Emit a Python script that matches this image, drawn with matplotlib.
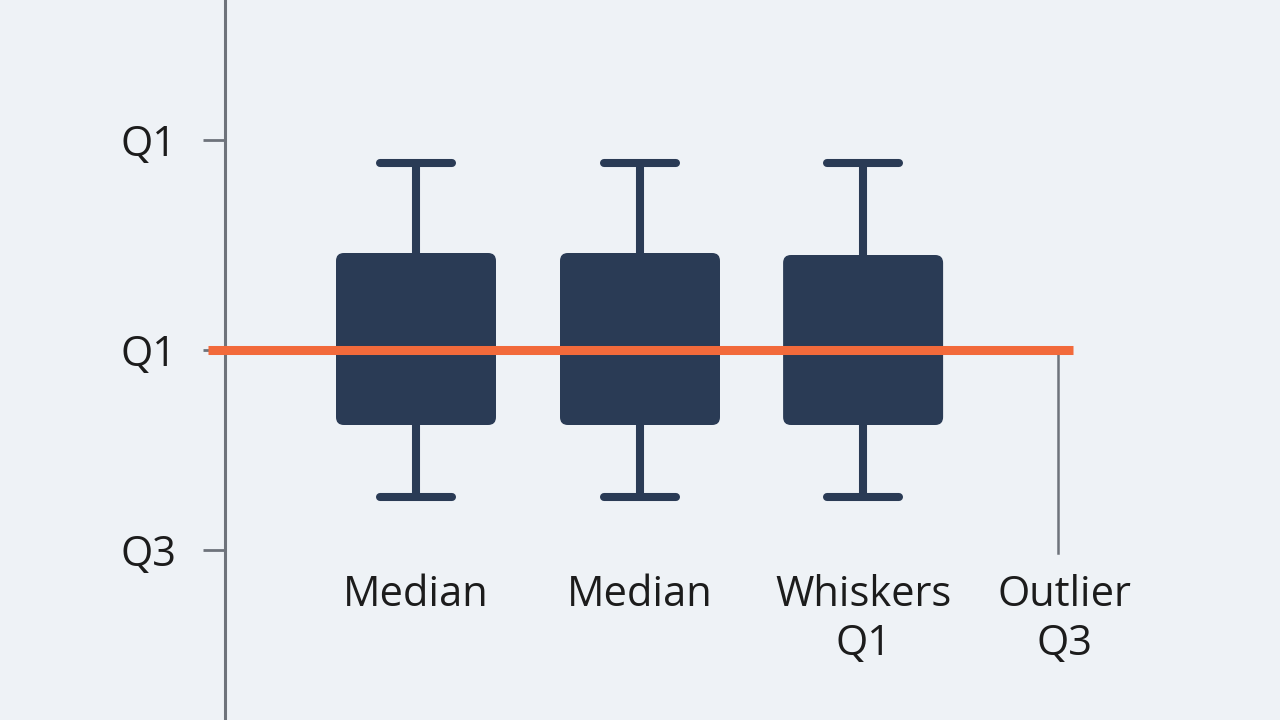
import matplotlib.pyplot as plt
from matplotlib.patches import FancyBboxPatch

# box statistics (arbitrary units)
positions = [1.0, 2.0, 2.996]
whisker_low = [22.3, 22.3, 22.3]
box_low = [29.5, 29.5, 29.5]
box_high = [46.7, 46.7, 46.5]
whisker_high = [55.7, 55.7, 55.7]

ref_level = 37.0
ref_x = [0.071, 3.933]
outlier_x = 3.866
outlier_span = [16.7, 36.5]

tick_vals = [58, 37, 17]
tick_labels = ['Q1', 'Q1', 'Q3']

label_x = [1.0, 2.0, 2.996, 3.897]
label_top = ['Median', 'Median', 'Whiskers', 'Outlier']
label_bottom = ['', '', 'Q1', 'Q3']

BG = '#eef2f6'
NAVY = '#2a3b55'
ORANGE = '#f26a3b'
GREY = '#6e737b'

plt.rcParams['font.family'] = ['Open Sans', 'DejaVu Sans']

fig = plt.figure(figsize=(12.8, 7.2), dpi=100, facecolor=BG)
ax = fig.add_axes([225 / 1280, 0, 1 - 225 / 1280, 1])
ax.set_facecolor(BG)
ax.set_xlim(1 - 191 / 224, 1 + 864 / 224)
ax.set_ylim(0, 72)

box_w = 160 / 224
cap_w = 72 / 224
for x, wl, bl, bh, wh in zip(positions, whisker_low, box_low, box_high, whisker_high):
    ax.plot([x, x], [wh, bh], color=NAVY, lw=5.8, solid_capstyle='butt', zorder=2)
    ax.plot([x, x], [bl, wl], color=NAVY, lw=5.8, solid_capstyle='butt', zorder=2)
    ax.plot([x - cap_w / 2, x + cap_w / 2], [wh, wh], color=NAVY, lw=5.8,
            solid_capstyle='round', zorder=2)
    ax.plot([x - cap_w / 2, x + cap_w / 2], [wl, wl], color=NAVY, lw=5.8,
            solid_capstyle='round', zorder=2)
    box = FancyBboxPatch((x - box_w / 2, bl), box_w, bh - bl,
                         boxstyle='round,pad=0,rounding_size=0.035',
                         mutation_aspect=22.4, facecolor=NAVY, edgecolor='none', zorder=3)
    ax.add_patch(box)

ax.plot(ref_x, [ref_level, ref_level], color=ORANGE, lw=6.5, solid_capstyle='butt',
        zorder=4, clip_on=False)
ax.plot([outlier_x, outlier_x], outlier_span, color=GREY, lw=1.8, zorder=2)

for x, t, b in zip(label_x, label_top, label_bottom):
    ax.text(x, 11.4, t, ha='center', va='baseline', fontsize=30, color='#1c1c1c')
    if b:
        ax.text(x, 6.5, b, ha='center', va='baseline', fontsize=30, color='#1c1c1c')

for s in ['top', 'right', 'bottom']:
    ax.spines[s].set_visible(False)
ax.spines['left'].set_color(GREY)
ax.spines['left'].set_linewidth(2.2)
ax.set_xticks([])
ax.set_yticks(tick_vals)
ax.set_yticklabels(tick_labels, fontsize=30, color='#1c1c1c')
ax.tick_params(axis='y', length=16, width=2, color=GREY, pad=19)

fig.savefig('out.png', dpi=100, facecolor=BG)
